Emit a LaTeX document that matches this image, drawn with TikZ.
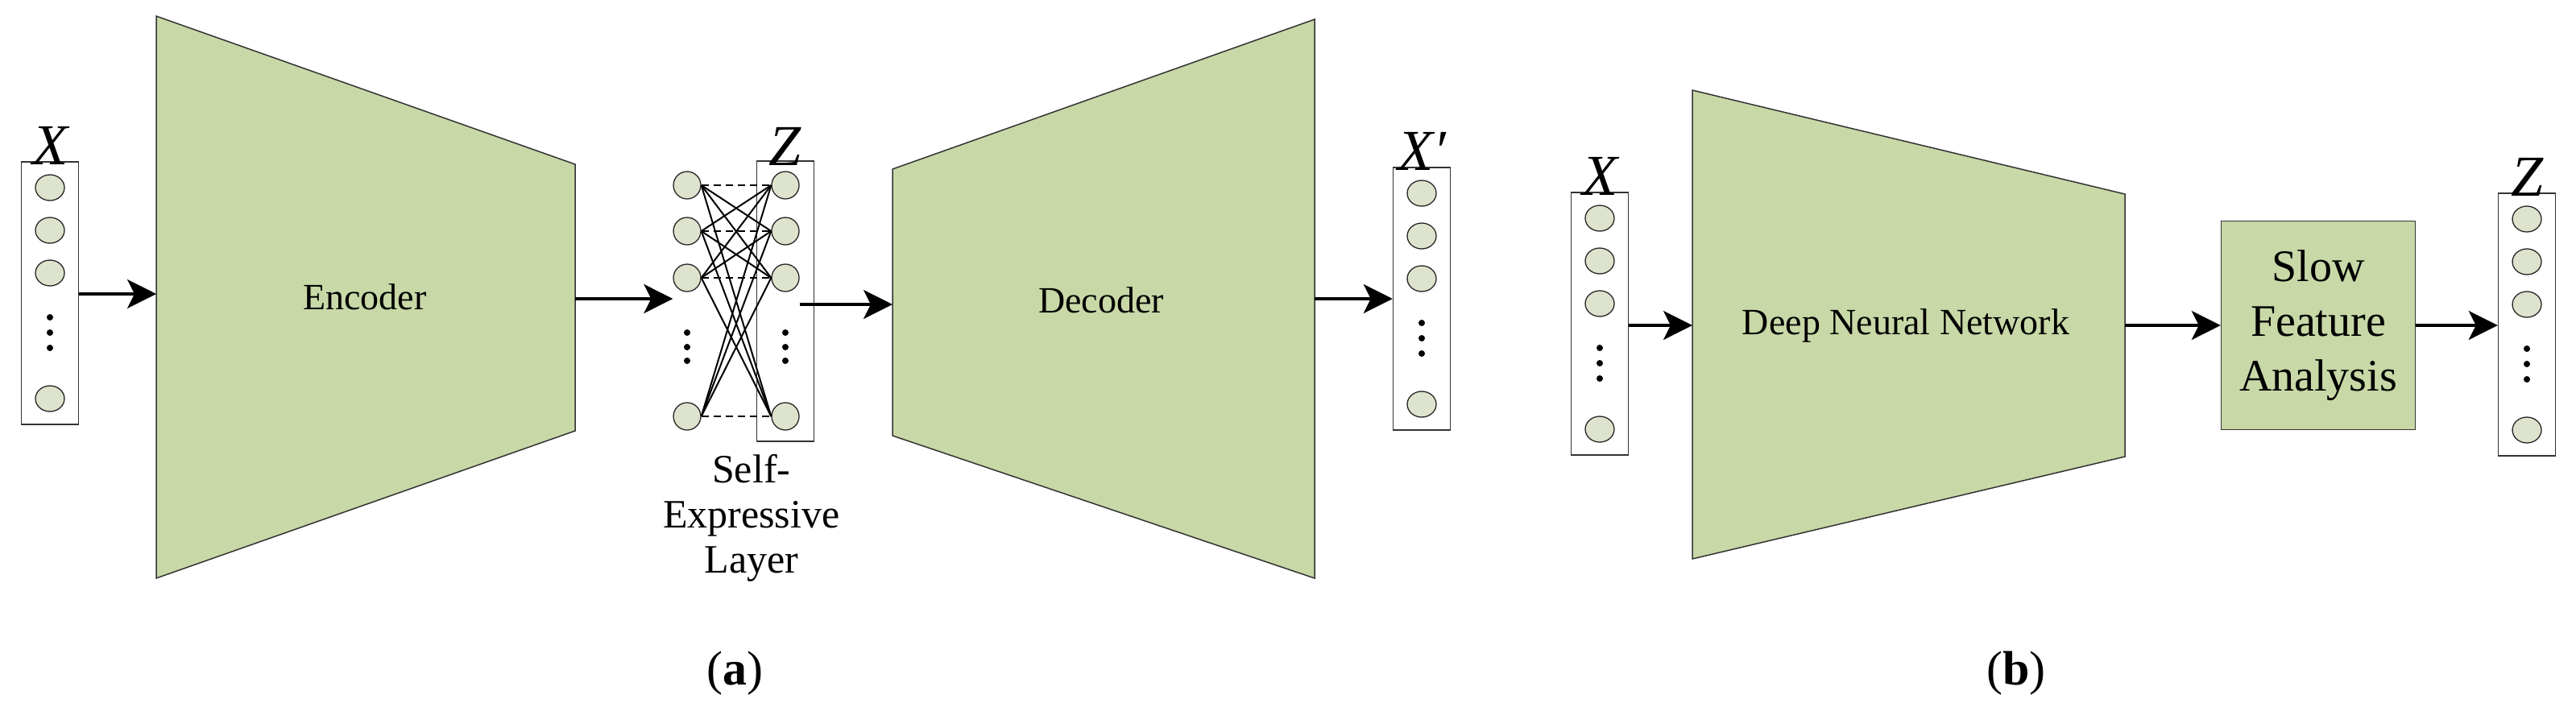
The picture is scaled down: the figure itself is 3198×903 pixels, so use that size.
\documentclass[tikz,border=0pt]{standalone}
\usepackage{fontspec}
\setmainfont{Liberation Serif}
\usetikzlibrary{positioning,arrows.meta,shapes.geometric}
\definecolor{colorblock}{RGB}{200,216,167}
\definecolor{colorunit} {RGB}{221,227,204}

\begin{document}
\begin{tikzpicture}[
    x=1pt, y=-1pt,
    base/.style={font={\rmfamily\fontsize{46}{55}\selectfont},align=center},
    block/.style={draw=black!80,line width=1.5pt,fill=colorblock},
    vecbox/.style={draw=black!80,line width=1.5pt,rectangle,minimum width=71pt,minimum height=326pt,inner sep=0pt},
    unit/.style={draw=black!85,line width=1.3pt,fill=colorunit,ellipse,minimum width=36pt,minimum height=32pt,inner sep=0pt},
    neuron/.style={draw=black!85,line width=1.3pt,fill=colorunit,circle,minimum size=34pt,inner sep=0pt},
    vdot/.style={fill=black,circle,minimum size=8pt,inner sep=0pt},
    varlabel/.style={font={\rmfamily\itshape\fontsize{72}{72}\selectfont}},
    caption/.style={font={\rmfamily\fontsize{60}{60}\selectfont}},
    flow/.style={line width=3.5pt,-{Stealth[length=36pt,width=36pt,inset=9pt]}},
    link/.style={line width=2pt},
    selflink/.style={line width=2pt,dashed,dash pattern=on 9pt off 6pt},
]
    \useasboundingbox (0,0) rectangle (3198,903);

    % Vector boxes with units
    \foreach \name/\cx/\cy in {xa/62/364, xp/1765/371, xb/1986/402, zb/3137/403} {
        \node[vecbox] (\name) at (\cx,\cy) {};
        \node[unit] (\name1) at (\cx,\cy-131) {};
        \node[unit] (\name2) at (\cx,\cy-78) {};
        \node[unit] (\name3) at (\cx,\cy-25) {};
        \node[vdot] at (\cx,\cy+30) {};
        \node[vdot] at (\cx,\cy+49) {};
        \node[vdot] at (\cx,\cy+68) {};
        \node[unit] (\name4) at (\cx,\cy+131) {};
    }
    \node[varlabel,above=-8pt of xa] (xalabel) {X};
    \node[varlabel,above=-8pt of xp] (xplabel) {X′};
    \node[varlabel,above=-8pt of xb] (xblabel) {X};
    \node[varlabel,above=-8pt of zb] (zblabel) {Z};

    % Encoder and decoder
    \draw[block] (194,20) -- (714,204) -- (714,535) -- (194,718) -- cycle;
    \node[base] (encoder) at (453,369) {Encoder};
    \draw[block] (1108,210) -- (1632,24) -- (1632,718) -- (1108,541) -- cycle;
    \node[base] (decoder) at (1367,373) {Decoder};
    \coordinate (encin)  at (194,365);
    \coordinate (encout) at (714,371);
    \coordinate (decin)  at (1108,378);
    \coordinate (decout) at (1632,371);

    % Self-expressive layer
    \node[vecbox,minimum height=348pt] (za) at (975,374) {};
    \node[varlabel,above=-10pt of za] (zalabel) {Z};
    \foreach \i/\y in {1/230,2/287,3/345,4/517} {
        \node[neuron] (sl\i) at (853,\y) {};
        \node[neuron] (sr\i) at (975,\y) {};
    }
    \foreach \x in {853,975} {
        \node[vdot] at (\x,413) {};
        \node[vdot] at (\x,431) {};
        \node[vdot] at (\x,448) {};
    }
    \foreach \i in {1,2,3,4} {
        \foreach \j in {1,2,3,4} {
            \ifnum\i=\j
                \draw[selflink] (sl\i.east) -- (sr\j.west);
            \else
                \draw[link] (sl\i.east) -- (sr\j.west);
            \fi
        }
    }
    \node[base,font={\rmfamily\fontsize{50}{56}\selectfont},below=12pt of za.south west,anchor=north,xshift=-6pt] (selflabel) {Self-\\Expressive\\Layer};
    \coordinate (layerin)  at (sl1.west |- encout);
    \coordinate (layerout) at (sr1.east |- decin);

    % Deep network and slow feature analysis
    \draw[block] (2101,112) -- (2638,241) -- (2638,567) -- (2101,694) -- cycle;
    \node[base] (dnn) at (2366,404) {Deep Neural Network};
    \coordinate (dnnin)  at (2101,404);
    \coordinate (dnnout) at (2638,404);
    \node[block,base,font={\rmfamily\fontsize{56}{68}\selectfont},minimum width=241pt,minimum height=259pt,inner sep=0pt] (sfa) at (2878,404) {Slow\\Feature\\Analysis};

    % Arrows
    \draw[flow] (xa.east |- encin) -- (encin);
    \draw[flow] (encout) -- (layerin);
    \draw[flow] (layerout) -- (decin);
    \draw[flow] (decout) -- (xp.west |- decout);
    \draw[flow] (xb.east |- dnnin) -- (dnnin);
    \draw[flow] (dnnout) -- (sfa.west);
    \draw[flow] (sfa.east) -- (zb.west |- sfa.east);

    % Captions
    \node[caption] (capa) at (912,836) {(\textbf{a})};
    \node[caption] (capb) at (2503,836) {(\textbf{b})};
\end{tikzpicture}
\end{document}
